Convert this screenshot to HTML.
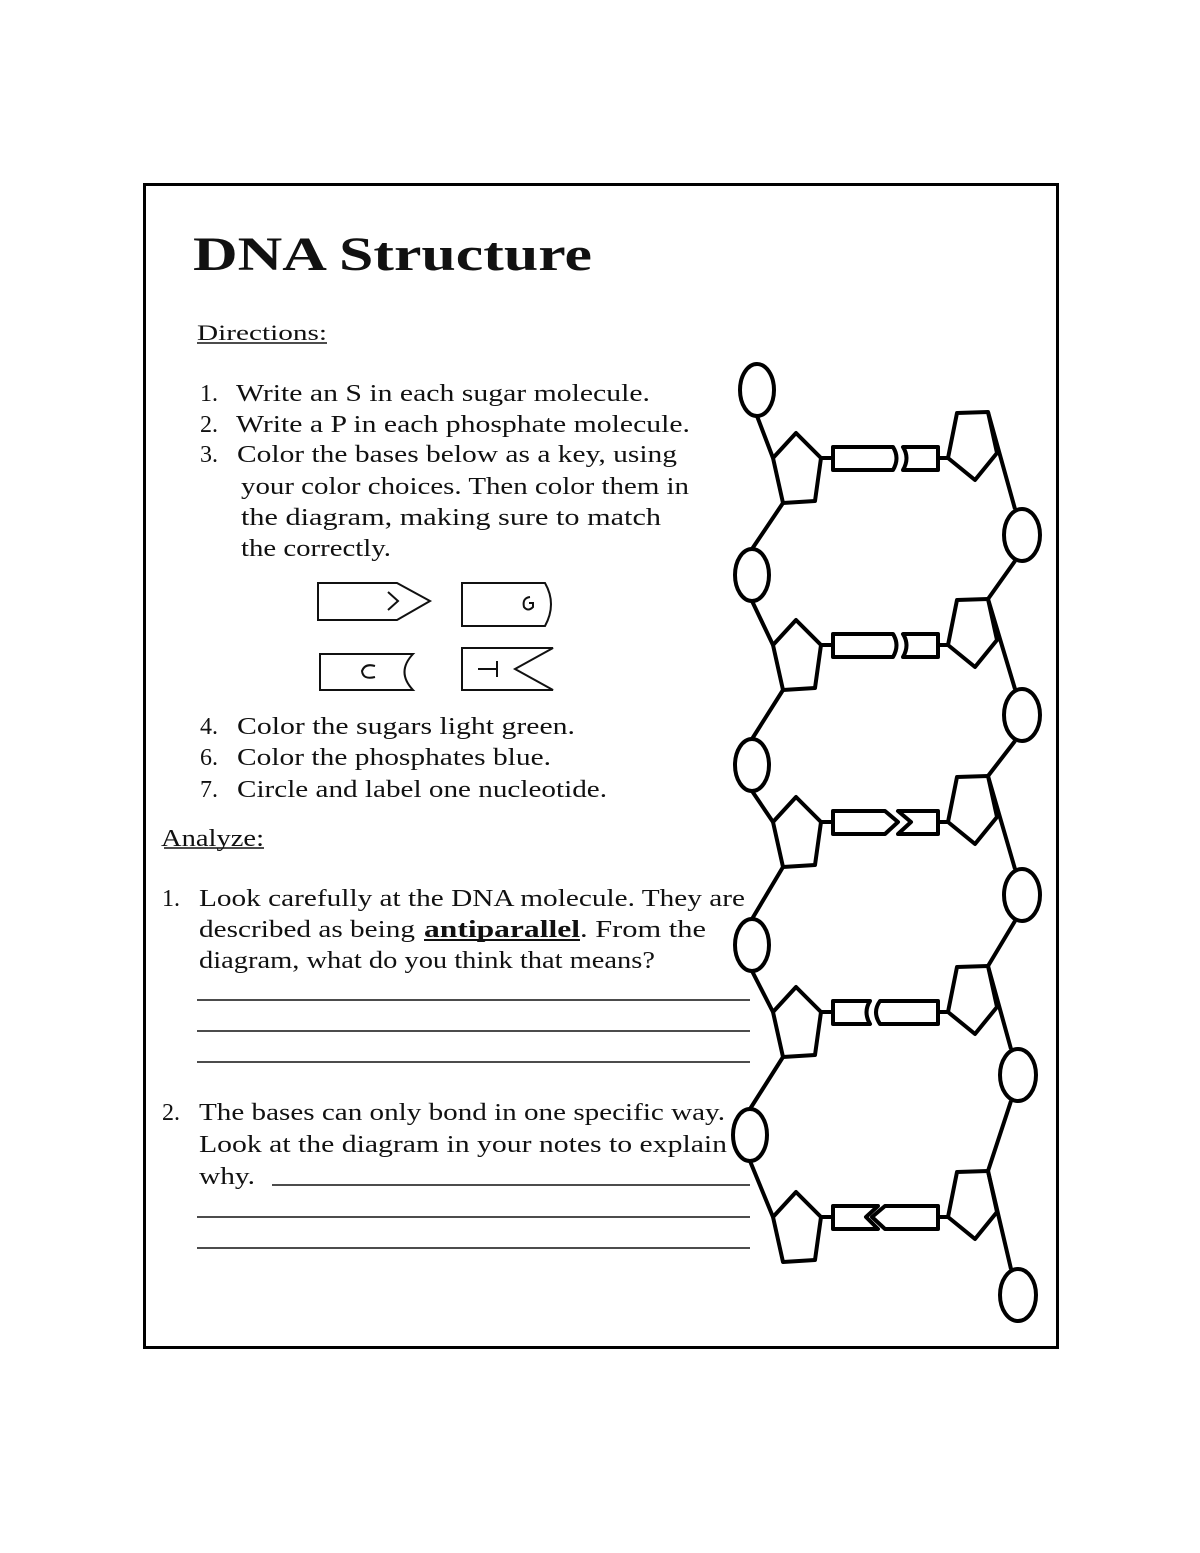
<!DOCTYPE html>
<html><head><meta charset="utf-8"><style>
html,body{margin:0;padding:0;background:#fff}
svg{display:block}
text{font-family:"Liberation Serif",serif;fill:#111}
</style></head><body>
<svg width="1200" height="1553" viewBox="0 0 1200 1553" xmlns="http://www.w3.org/2000/svg">
<rect x="144.5" y="184.5" width="913" height="1163" fill="none" stroke="#000" stroke-width="3"/>
<text x="193" y="270" font-size="48" font-weight="bold" textLength="399" lengthAdjust="spacingAndGlyphs">DNA Structure</text>
<text x="197" y="340" font-size="22" textLength="130" lengthAdjust="spacingAndGlyphs">Directions:</text>
<line x1="197" y1="343" x2="327" y2="343" stroke="#111" stroke-width="1.5"/>
<g font-size="24">
<text x="200" y="401">1.</text><text x="236" y="401" textLength="414" lengthAdjust="spacingAndGlyphs">Write an S in each sugar molecule.</text>
<text x="200" y="432">2.</text><text x="236" y="432" textLength="454" lengthAdjust="spacingAndGlyphs">Write a P in each phosphate molecule.</text>
<text x="200" y="462">3.</text><text x="237" y="462" textLength="440" lengthAdjust="spacingAndGlyphs">Color the bases below as a key, using</text>
<text x="241" y="494" textLength="448" lengthAdjust="spacingAndGlyphs">your color choices. Then color them in</text>
<text x="241" y="525" textLength="420" lengthAdjust="spacingAndGlyphs">the diagram, making sure to match</text>
<text x="241" y="556" textLength="150" lengthAdjust="spacingAndGlyphs">the correctly.</text>
<text x="200" y="734">4.</text><text x="237" y="734" textLength="338" lengthAdjust="spacingAndGlyphs">Color the sugars light green.</text>
<text x="200" y="765">6.</text><text x="237" y="765" textLength="314" lengthAdjust="spacingAndGlyphs">Color the phosphates blue.</text>
<text x="200" y="797">7.</text><text x="237" y="797" textLength="370" lengthAdjust="spacingAndGlyphs">Circle and label one nucleotide.</text>
<text x="161" y="846" textLength="103" lengthAdjust="spacingAndGlyphs">Analyze:</text>
<text x="162" y="906">1.</text><text x="199" y="906" textLength="546" lengthAdjust="spacingAndGlyphs">Look carefully at the DNA molecule. They are</text>
<text x="199" y="937" textLength="216" lengthAdjust="spacingAndGlyphs">described as being</text>
<text x="424" y="937" font-weight="bold" textLength="156" lengthAdjust="spacingAndGlyphs">antiparallel</text>
<text x="580" y="937" textLength="126" lengthAdjust="spacingAndGlyphs">. From the</text>
<text x="199" y="968" textLength="456" lengthAdjust="spacingAndGlyphs">diagram, what do you think that means?</text>
<text x="162" y="1120">2.</text><text x="199" y="1120" textLength="526" lengthAdjust="spacingAndGlyphs">The bases can only bond in one specific way.</text>
<text x="199" y="1152" textLength="528" lengthAdjust="spacingAndGlyphs">Look at the diagram in your notes to explain</text>
<text x="199" y="1184" textLength="56" lengthAdjust="spacingAndGlyphs">why.</text>
</g>
<line x1="164" y1="848" x2="264" y2="848" stroke="#111" stroke-width="1.5"/>
<line x1="424" y1="940" x2="580" y2="940" stroke="#111" stroke-width="2"/>
<g stroke="#111" stroke-width="1.5">
<line x1="197" y1="1000" x2="750" y2="1000"/>
<line x1="197" y1="1031" x2="750" y2="1031"/>
<line x1="197" y1="1062" x2="750" y2="1062"/>
<line x1="272" y1="1185" x2="750" y2="1185"/>
<line x1="197" y1="1217" x2="750" y2="1217"/>
<line x1="197" y1="1248" x2="750" y2="1248"/>
</g>
<g fill="none" stroke="#111" stroke-width="2">
<path d="M318,583 H397 L430,601 L397,620 H318 Z"/>
<path d="M388,592 L398,601 L388,610"/>
<path d="M462,583 H545 Q557,604 545,626 H462 Z"/>
<path d="M530,597 Q522,598 524,607 Q528,612 533,607 V603 H529"/>
<path d="M320,654 H413 Q396,672 413,690 H320 Z"/>
<path d="M375,666 Q365,663 362,671 Q363,680 375,677"/>
<path d="M462,648 H553 L515,669 L553,690 H462 Z"/>
<path d="M478,669 H497 M497,661 V677"/>
</g>
<g fill="none" stroke="#000" stroke-width="4" stroke-linejoin="round">
<ellipse cx="757" cy="390" rx="17" ry="26"/><ellipse cx="752" cy="575" rx="17" ry="26"/><ellipse cx="752" cy="765" rx="17" ry="26"/><ellipse cx="752" cy="945" rx="17" ry="26"/><ellipse cx="750" cy="1135" rx="17" ry="26"/>
<ellipse cx="1022" cy="535" rx="18" ry="26"/><ellipse cx="1022" cy="715" rx="18" ry="26"/><ellipse cx="1022" cy="895" rx="18" ry="26"/><ellipse cx="1018" cy="1075" rx="18" ry="26"/><ellipse cx="1018" cy="1295" rx="18" ry="26"/>
<path d="M757,416 L773,458 M783,503 L752,549 M752,601 L773,645 M783,690 L752,739 M752,791 L773,822 M783,867 L752,919 M752,971 L773,1012 M783,1057 L750,1109 M750,1161 L773,1217"/>
<path d="M988,412 L1015,509 M1015,561 L988,599 L1015,689 M1015,741 L988,776 L1015,869 M1015,921 L988,966 L1011,1049 M1011,1101 L988,1171 L1011,1269"/>
<g transform="translate(0,458)"><path d="M773,0 L796,-25 L821,0 L815,43 L783,45 Z"/><path d="M948,0 L957,-45 L988,-46 L997,-5 L975,22 Z"/><path d="M821,0H833 M938,0H948"/><path d="M833,-11 H893 Q900,0 893,12 H833 Z"/><path d="M903,-11 H938 V12 H903 Q910,0 903,-11 Z"/></g>
<g transform="translate(0,645)"><path d="M773,0 L796,-25 L821,0 L815,43 L783,45 Z"/><path d="M948,0 L957,-45 L988,-46 L997,-5 L975,22 Z"/><path d="M821,0H833 M938,0H948"/><path d="M833,-11 H893 Q900,0 893,12 H833 Z"/><path d="M903,-11 H938 V12 H903 Q910,0 903,-11 Z"/></g>
<g transform="translate(0,822)"><path d="M773,0 L796,-25 L821,0 L815,43 L783,45 Z"/><path d="M948,0 L957,-45 L988,-46 L997,-5 L975,22 Z"/><path d="M821,0H833 M938,0H948"/><path d="M833,-11 H885 L898,0 L885,12 H833 Z"/><path d="M898,-11 H938 V12 H898 L911,0 Z"/></g>
<g transform="translate(0,1012)"><path d="M773,0 L796,-25 L821,0 L815,43 L783,45 Z"/><path d="M948,0 L957,-45 L988,-46 L997,-5 L975,22 Z"/><path d="M821,0H833 M938,0H948"/><path d="M833,-11 H870 Q863,0 870,12 H833 Z"/><path d="M880,-11 H938 V12 H880 Q872,0 880,-11 Z"/></g>
<g transform="translate(0,1217)"><path d="M773,0 L796,-25 L821,0 L815,43 L783,45 Z"/><path d="M948,0 L957,-45 L988,-46 L997,-5 L975,22 Z"/><path d="M821,0H833 M938,0H948"/><path d="M833,-11 H878 L866,0 L878,12 H833 Z"/><path d="M872,0 L885,-11 H938 V12 H885 Z"/></g>
</g>
</svg>
</body></html>
